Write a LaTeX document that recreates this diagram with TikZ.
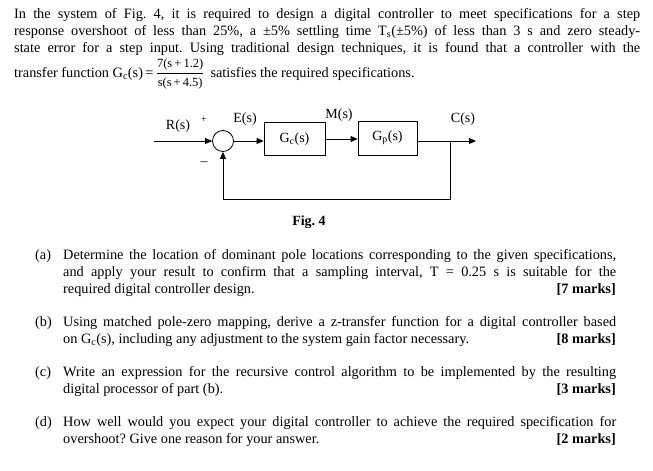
\documentclass[tikz,border=0pt]{standalone}
\usepackage{fontspec}
\setmainfont{Liberation Serif}
\usetikzlibrary{arrows.meta}
\begin{document}
\frenchspacing
\begin{tikzpicture}[x=1pt,y=-1pt,
  txt/.style={anchor=base west,inner sep=0pt,font=\fontsize{14.3}{16}\selectfont},
  blk/.style={draw,line width=0.8pt,minimum width=61pt,minimum height=33pt,inner sep=0pt,font=\fontsize{14}{16}\selectfont},
  lbl/.style={inner sep=0pt,font=\fontsize{14}{16}\selectfont},
  sig/.style={line width=0.8pt,-{Triangle[length=7pt,width=6pt]}}]
\useasboundingbox (0,0) rectangle (653,471);
\newcommand{\jl}[1]{\makebox[626pt][s]{#1}}
\newcommand{\il}[1]{\makebox[553pt][s]{#1}}
\node[txt] (l1) at (14,18) {\jl{In the system of Fig. 4, it is required to design a digital controller to meet specifications for a step}};
\node[txt] (l2) at (14,35) {\jl{response overshoot of less than 25\%, a ±5\% settling time T\textsubscript{s}(±5\%) of less than 3 s and zero steady-}};
\node[txt] (l3) at (14,52) {\jl{state error for a step input. Using traditional design techniques, it is found that a controller with the}};
\node[txt] (l4) at (14,77) {transfer function G\textsubscript{c}(s)\,=\,$\displaystyle\frac{\mbox{\fontsize{12.5}{13}\selectfont 7(s\,+\,1.2)}}{\mbox{\fontsize{12.5}{13}\selectfont s(s\,+\,4.5)}}$ \,satisfies the required specifications.};
% diagram
\node[blk] (gc) at (294.5,139) {G\textsubscript{c}(s)};
\node[blk,minimum width=59pt,minimum height=34pt] (gp) at (387.5,138) {G\textsubscript{p}(s)};
\node[draw,circle,line width=0.8pt,minimum size=21pt,inner sep=0pt] (sum) at (223,141) {};
\coordinate (rin) at (154,141);
\coordinate (br) at (450,141);
\coordinate (cout) at (476,141);
\coordinate (bot) at (450,199);
\draw[sig] (rin) -- (sum.west);
\draw[sig] (sum.east) -- (sum.east -| gc.west);
\draw[sig] (gc.east |- 139,139) -- (gp.west |- 139,139);
\draw[sig] (gp.east |- br) -- (cout);
\draw[line width=0.8pt,-{Triangle[length=7pt,width=6pt]}] (br) -- (bot) -| (sum.south);
\node[lbl] (r) at (178,126) {R(s)};
\node[lbl,font=\fontsize{10}{11}\selectfont] (plus) at (204,120) {+};
\node[lbl] (e) at (245,119) {E(s)};
\node[lbl] (m) at (339,115) {M(s)};
\node[lbl] (c) at (463,119) {C(s)};
\node[lbl] (minus) at (204,164) {–};
\node[lbl,font=\bfseries\fontsize{14}{16}\selectfont] (fig) at (309,222) {Fig. 4};
% questions
\node[txt] (qa) at (35,259) {(a)};
\node[txt] (a1) at (63,259) {\il{Determine the location of dominant pole locations corresponding to the given specifications,}};
\node[txt] (a2) at (63,276) {\il{and apply your result to confirm that a sampling interval, T = 0.25 s is suitable for the}};
\node[txt] (a3) at (63,293) {required digital controller design.};
\node[txt,anchor=base east] (m1) at (616,293) {\textbf{[7 marks]}};
\node[txt] (qb) at (35,326) {(b)};
\node[txt] (b1) at (63,326) {\il{Using matched pole-zero mapping, derive a z-transfer function for a digital controller based}};
\node[txt] (b2) at (63,343) {on G\textsubscript{c}(s), including any adjustment to the system gain factor necessary.};
\node[txt,anchor=base east] (m2) at (616,343) {\textbf{[8 marks]}};
\node[txt] (qc) at (35,376) {(c)};
\node[txt] (c1) at (63,376) {\il{Write an expression for the recursive control algorithm to be implemented by the resulting}};
\node[txt] (c2) at (63,393) {digital processor of part (b).};
\node[txt,anchor=base east] (m3) at (616,393) {\textbf{[3 marks]}};
\node[txt] (qd) at (35,426) {(d)};
\node[txt] (d1) at (63,426) {\il{How well would you expect your digital controller to achieve the required specification for}};
\node[txt] (d2) at (63,443) {overshoot? Give one reason for your answer.};
\node[txt,anchor=base east] (m4) at (616,443) {\textbf{[2 marks]}};
\end{tikzpicture}
\end{document}
